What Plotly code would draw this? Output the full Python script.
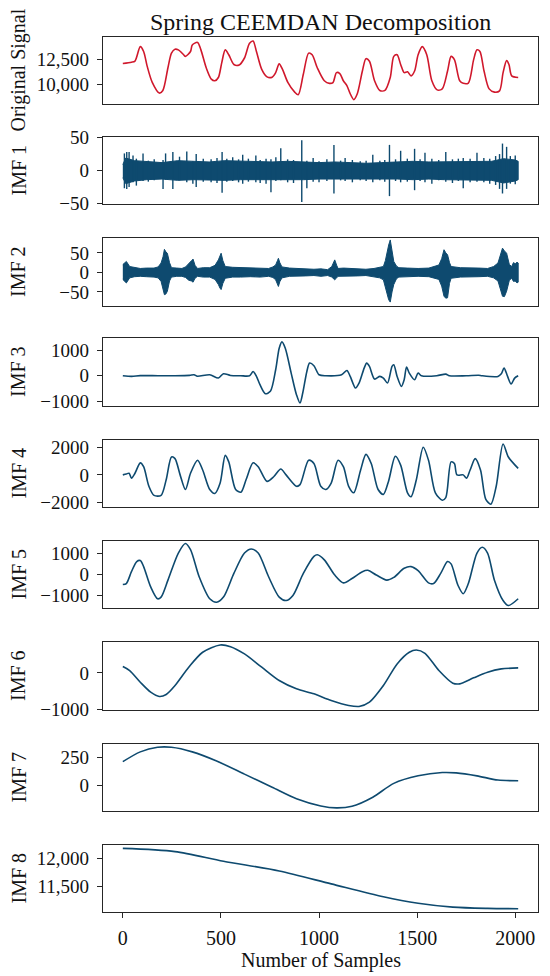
import plotly.graph_objects as go
from plotly.subplots import make_subplots

# ---- data (sample index, value) ----
orig_x = [0, 44, 62, 89, 106, 124, 150, 186, 204, 230, 248, 266, 283, 310, 319, 345, 354, 381, 398, 425,
          451, 469, 487, 504, 522, 540, 566, 593, 620, 646, 664, 681, 708, 735, 761, 779, 797, 814, 841, 876,
          894, 920, 947, 965, 991, 1027, 1053, 1071, 1089, 1106, 1124, 1142, 1159, 1177, 1195, 1221, 1239, 1257,
          1283, 1310, 1336, 1363, 1381, 1398, 1416, 1434, 1451, 1469, 1487, 1505, 1526, 1549, 1575, 1602, 1628,
          1655, 1673, 1690, 1717, 1735, 1761, 1788, 1805, 1820, 1841, 1867, 1894, 1920, 1938, 1956, 1968, 1982, 2015]
orig_y = [12100, 12230, 12350, 13833, 13333, 11833, 10167, 9070, 9330, 11667, 13167, 13567, 13500, 13000, 12833,
          13333, 14000, 14267, 13500, 11667, 10500, 10333, 10667, 12167, 13500, 13000, 12000, 11950, 12667, 14167,
          14400, 13333, 11500, 10733, 10700, 11167, 12067, 11500, 10167, 9167, 8900, 11000, 13167, 13000, 11667,
          10333, 10067, 10150, 11167, 11067, 10333, 9833, 9000, 8400, 9000, 11333, 12600, 12333, 10333, 9333,
          9350, 10667, 12833, 13000, 12000, 11167, 11250, 10833, 11333, 13000, 13833, 13000, 10333, 9400, 9500,
          11333, 12833, 12500, 10333, 10067, 10100, 12500, 13500, 13333, 11333, 9500, 9167, 9300, 11167, 12400,
          12000, 10833, 10667]

# IMF 1: dense noise -> solid core band plus the thin spikes that stick out of it
imf1_core_x = [0, 15, 60, 120, 200, 280, 360, 440, 520, 600, 680, 760, 840, 920, 1000, 1080, 1160, 1240,
               1320, 1400, 1480, 1560, 1640, 1720, 1800, 1880, 1940, 2000, 2015]
imf1_core_up = [9, 19, 15, 14, 12, 15, 14, 13, 15, 14, 14, 13, 14, 13, 12, 13, 12, 11, 12, 13, 14, 13, 13,
                14, 14, 14, 18, 16, 14]
imf1_core_lo = [-11, -20, -16, -14, -13, -15, -14, -14, -15, -14, -14, -13, -14, -14, -13, -13, -12, -12,
                -13, -13, -14, -13, -14, -14, -15, -15, -19, -16, -14]
imf1_spike_x = [8, 20, 32, 52, 69, 103, 130, 160, 205, 218, 255, 289, 326, 357, 374, 410, 450, 480, 506, 530,
                560, 590, 611, 640, 678, 700, 730, 755, 780, 805, 840, 870, 912, 938, 970, 1000, 1040, 1076,
                1110, 1133, 1170, 1210, 1240, 1274, 1310, 1335, 1359, 1390, 1416, 1450, 1487, 1515, 1540, 1575,
                1610, 1646, 1680, 1710, 1735, 1770, 1805, 1840, 1870, 1900, 1920, 1935, 1956, 1975, 2000]
imf1_spike_hi = [26, 28, 28, 23, 18, 26, 15, 17, 16, 26, 28, 21, 29, 14, 25, 18, 17, 19, 28, 18,
                 20, 17, 24, 18, 23, 16, 18, 17, 20, 34, 17, 16, 46, 15, 19, 14, 17, 39, 15, 19,
                 16, 14, 15, 24, 15, 16, 39, 17, 30, 18, 33, 17, 27, 18, 16, 28, 17, 18, 19, 18,
                 27, 19, 18, 22, 25, 41, 36, 22, 23]
imf1_spike_lo = [-27, -28, -25, -18, -23, -16, -17, -15, -28, -14, -28, -15, -18, -20, -25, -17, -18, -19, -34,
                 -17, -16, -18, -20, -17, -18, -19, -20, -33, -16, -15, -18, -19, -48, -27, -17, -18, -16, -35,
                 -15, -16, -18, -15, -16, -18, -15, -17, -39, -16, -18, -17, -30, -16, -18, -20, -15, -17, -19,
                 -16, -27, -18, -17, -18, -20, -22, -28, -35, -28, -20, -21]

# IMF 2: quiet noise with bursts, drawn as its upper / lower envelope
imf2_x = [0, 10, 18, 35, 60, 89, 120, 159, 180, 195, 205, 212, 220, 227, 238, 248, 275, 301, 320, 336,
          350, 358, 368, 381, 410, 443, 470, 487, 495, 501, 510, 522, 560, 600, 650, 700, 743, 765, 779, 788,
          793, 800, 811, 850, 885, 930, 974, 1010, 1044, 1065, 1080, 1090, 1097, 1125, 1151, 1195, 1239, 1280,
          1310, 1328, 1338, 1345, 1355, 1363, 1372, 1381, 1395, 1407, 1450, 1505, 1560, 1611, 1625, 1637, 1646,
          1655, 1665, 1673, 1720, 1770, 1815, 1859, 1890, 1912, 1925, 1935, 1945, 1956, 1970, 1982, 1991, 2000,
          2009, 2015]
imf2_up = [20, 26, 28, 15, 12, 10, 11, 11, 14, 24, 40, 59, 52, 49, 25, 12, 11, 10, 14, 24,
           30, 34, 18, 10, 12, 12, 18, 32, 45, 49, 30, 15, 13, 12, 11, 10, 10, 14, 19, 30,
           36, 25, 14, 11, 10, 9, 8, 9, 7, 15, 32, 18, 10, 11, 10, 9, 8, 10, 13, 15,
           30, 49, 70, 83, 50, 28, 16, 12, 11, 10, 11, 19, 35, 58, 50, 45, 25, 15, 12, 12,
           11, 10, 15, 24, 45, 62, 55, 49, 20, 15, 25, 22, 26, 24]
imf2_lo = [-18, -24, -27, -14, -11, -10, -11, -12, -14, -23, -45, -57, -55, -48, -22, -12, -10, -10, -13, -20,
           -22, -25, -15, -10, -12, -12, -18, -31, -40, -44, -28, -15, -12, -12, -11, -12, -10, -13, -19, -30,
           -36, -24, -14, -10, -10, -9, -8, -10, -8, -12, -19, -14, -10, -10, -10, -9, -8, -11, -14, -19,
           -35, -53, -70, -76, -50, -31, -16, -12, -11, -10, -11, -18, -35, -61, -66, -65, -28, -15, -12, -12,
           -11, -10, -14, -22, -45, -61, -62, -48, -20, -15, -23, -22, -27, -25]

imf3_x = [0, 45, 89, 180, 266, 340, 363, 380, 443, 487, 513, 549, 600, 646, 664, 681, 699, 726, 752, 779,
          797, 811, 828, 858, 885, 903, 917, 938, 952, 974, 1000, 1035, 1115, 1142, 1159, 1186, 1204, 1230, 1243,
          1257, 1283, 1310, 1328, 1349, 1372, 1381, 1398, 1420, 1434, 1446, 1460, 1487, 1505, 1522, 1600, 1646,
          1664, 1750, 1814, 1830, 1912, 1929, 1943, 1961, 1979, 1997, 2015]
imf3_y = [0, -25, 5, 0, 0, 15, 40, -20, 40, -90, 80, 10, 0, 0, 170, -26, -353, -706, -614, 235,
          1085, 1333, 1085, 105, -745, -1072, -680, 170, 497, 392, 39, 0, 39, 209, -26, -484, -288, 300, 497,
          366, -131, -26, -92, -288, 366, 431, -26, -418, -157, 340, 105, -157, 105, 0, 0, 65,
          0, 0, 20, 0, -26, 78, 300, -26, -327, -92, 0]

imf4_x = [0, 18, 32, 44, 62, 89, 106, 133, 159, 195, 221, 248, 266, 292, 319, 345, 381, 407, 443, 469,
          496, 522, 540, 575, 602, 628, 664, 690, 735, 770, 805, 832, 885, 903, 947, 974, 1009, 1035, 1062, 1097,
          1124, 1151, 1177, 1212, 1239, 1266, 1301, 1328, 1354, 1389, 1416, 1451, 1469, 1496, 1531, 1558, 1593,
          1628, 1646, 1673, 1690, 1703, 1735, 1752, 1770, 1796, 1823, 1850, 1876, 1903, 1938, 1965, 2015]
imf4_y = [0, 70, 118, -235, 118, 870, 588, -823, -1480, -1480, -353, 1293, 1175, 0, -1058, 118, 1058, 353, -1058,
          -1340, -588, 1410, 940, -1058, -1246, -353, 870, 588, -470, -118, 423, 0, -823, -705, 1058, 823, -823,
          -1058, -588, 1058, 588, -823, -1293, 353, 1480, 823, -1058, -1410, -470, 1340, 705, -1293, -1575, -353,
          2000, 1058, -1293, -1833, -1645, 940, 823, 0, 0, -235, 353, 1175, 353, -1763, -2115, -823, 2233, 1293, 470]

imf5_x = [0, 18, 44, 71, 89, 106, 142, 177, 195, 230, 283, 319, 345, 389, 443, 478, 513, 566, 620, 655,
          690, 743, 797, 832, 867, 920, 974, 991, 1027, 1080, 1124, 1168, 1221, 1248, 1292, 1345, 1381, 1434,
          1469, 1505, 1558, 1584, 1620, 1655, 1673, 1708, 1735, 1761, 1805, 1832, 1859, 1894, 1938, 1965, 2015]
imf5_y = [-484, -435, 129, 613, 661, 371, -597, -1161, -1081, -274, 1016, 1468, 1177, -113, -1161, -1323, -1081,
          48, 1016, 1210, 1016, -113, -1081, -1242, -1000, 48, 855, 935, 694, -32, -403, -194, 129, 194, -32,
          -274, -145, 290, 371, 177, -403, -435, 48, 613, 500, -516, -919, -435, 1016, 1290, 1016, -274, -1242,
          -1484, -1161]

imf6_x = [0, 35, 89, 142, 186, 221, 266, 336, 407, 496, 549, 620, 708, 797, 885, 974, 1062, 1151, 1204, 1257,
          1328, 1398, 1460, 1496, 1540, 1611, 1682, 1717, 1788, 1859, 1929, 2015]
imf6_y = [173, 64, -255, -527, -645, -591, -345, 155, 564, 764, 718, 518, 155, -209, -436, -573, -755, -891,
          -918, -800, -345, 245, 564, 627, 536, 64, -282, -300, -136, 18, 109, 136]

imf7_x = [0, 89, 177, 248, 354, 478, 620, 761, 885, 1009, 1089, 1168, 1274, 1381, 1505, 1628, 1699, 1805,
          1912, 2015]
imf7_y = [210, 296, 336, 336, 296, 216, 101, -14, -115, -178, -195, -181, -101, 20, 86, 115, 112, 86, 49, 43]

imf8_x = [0, 266, 513, 797, 1062, 1328, 1505, 1682, 1859, 2015]
imf8_y = [12170, 12114, 11943, 11773, 11545, 11318, 11205, 11136, 11114, 11108]

panel_names = ["Original Signal", "IMF 1", "IMF 2", "IMF 3", "IMF 4", "IMF 5", "IMF 6", "IMF 7", "IMF 8"]
y_ranges = [[7950, 14820], [-51, 51], [-86, 88], [-1190, 1485], [-2320, 2520],
            [-1600, 1590], [-1015, 845], [-222, 365], [11050, 12230]]
y_tickvals = [[10000, 12500], [-50, 0, 50], [-50, 0, 50], [-1000, 0, 1000], [-2000, 0, 2000],
              [-1000, 0, 1000], [-1000, 0], [0, 250], [11500, 12000]]
y_ticktext = [["10,000", "12,500"], ["\u221250", "0", "50"], ["\u221250", "0", "50"],
              ["\u22121000", "0", "1000"], ["\u22122000", "0", "2000"], ["\u22121000", "0", "1000"],
              ["\u22121000", "0"], ["0", "250"], ["11,500", "12,000"]]
x_tickvals = [0, 500, 1000, 1500, 2000]

# ---- layout: panel positions in page pixels (top, bottom) ----
# the page body has an 8px margin, so the figure is made that much smaller and shifted back
PAGE_W, PAGE_H, OFF = 550, 976, 8
W, H = PAGE_W - OFF, PAGE_H - OFF
panel_px = [(37, 104), (137, 204), (238, 306), (338, 406), (440, 507),
            (541, 608), (642, 710), (744, 811), (845, 912)]
RED = "#d0182c"
BLUE = "#0e4a6f"
FONT = "Liberation Serif"
AXC = "#262626"


def px_x(p):
    return (p - OFF) / W


def px_y(p):
    return 1 - (p - OFF) / H


fig = make_subplots(rows=9, cols=1)

fig.add_trace(go.Scatter(x=orig_x, y=orig_y, mode="lines",
                         line=dict(color=RED, width=1.6, shape="spline", smoothing=0.8)), row=1, col=1)

# IMF 1 core band and spikes
fig.add_trace(go.Scatter(x=imf1_core_x + imf1_core_x[::-1], y=imf1_core_up + imf1_core_lo[::-1],
                         mode="lines", fill="toself", fillcolor=BLUE, line=dict(color=BLUE, width=1)),
              row=2, col=1)
sx, sy = [], []
for x, hi, lo in zip(imf1_spike_x, imf1_spike_hi, imf1_spike_lo):
    sx += [x, x, None]
    sy += [lo, hi, None]
fig.add_trace(go.Scatter(x=sx, y=sy, mode="lines", line=dict(color=BLUE, width=1.4)), row=2, col=1)

fig.add_trace(go.Scatter(x=imf2_x + imf2_x[::-1], y=imf2_up + imf2_lo[::-1], mode="lines",
                         fill="toself", fillcolor=BLUE, line=dict(color=BLUE, width=1)), row=3, col=1)

smooth = [(imf3_x, imf3_y), (imf4_x, imf4_y), (imf5_x, imf5_y), (imf6_x, imf6_y),
          (imf7_x, imf7_y), (imf8_x, imf8_y)]
for i, (xs, ys) in enumerate(smooth):
    fig.add_trace(go.Scatter(x=xs, y=ys, mode="lines",
                             line=dict(color=BLUE, width=1.6, shape="spline", smoothing=0.8)),
                  row=i + 4, col=1)

x_dom = [px_x(103), px_x(538)]
for i in range(9):
    top, bot = panel_px[i]
    r = i + 1
    fig.update_yaxes(domain=[px_y(bot), px_y(top)], range=y_ranges[i], automargin=False,
                     tickmode="array", tickvals=y_tickvals[i], ticktext=y_ticktext[i],
                     showline=True, mirror=True, linecolor=AXC, linewidth=1.3,
                     ticks="outside", ticklen=5, tickwidth=1.2, tickcolor=AXC,
                     showgrid=False, zeroline=False, ticklabelstandoff=4,
                     tickfont=dict(family=FONT, size=19, color="#111"), row=r, col=1)
    fig.update_xaxes(domain=x_dom, range=[-101, 2116], automargin=False,
                     showline=True, mirror=True, linecolor=AXC, linewidth=1.3,
                     showgrid=False, zeroline=False, row=r, col=1)
    if r < 9:
        fig.update_xaxes(showticklabels=False, ticks="", row=r, col=1)
    else:
        fig.update_xaxes(tickmode="array", tickvals=x_tickvals, ticks="outside", ticklen=5,
                         tickwidth=1.2, tickcolor=AXC, ticklabelstandoff=3,
                         tickfont=dict(family=FONT, size=20, color="#111"), row=r, col=1)
    fig.add_annotation(text=panel_names[i], xref="paper", yref="paper", x=px_x(18),
                       y=px_y((top + bot) / 2), textangle=-90, showarrow=False,
                       xanchor="center", yanchor="middle",
                       font=dict(family=FONT, size=20, color="#111"))

fig.add_annotation(text="Spring CEEMDAN Decomposition", xref="paper", yref="paper",
                   x=(x_dom[0] + x_dom[1]) / 2, y=1, showarrow=False, borderpad=0,
                   xanchor="center", yanchor="top", font=dict(family=FONT, size=24, color="#111"))
fig.add_annotation(text="Number of Samples", xref="paper", yref="paper",
                   x=(x_dom[0] + x_dom[1]) / 2, y=px_y(960), showarrow=False,
                   xanchor="center", yanchor="middle", font=dict(family=FONT, size=20, color="#111"))

fig.update_layout(width=W, height=H, margin=dict(l=0, r=0, t=0, b=0, autoexpand=False), showlegend=False,
                  plot_bgcolor="white", paper_bgcolor="white")

fig.write_html("out.html")
